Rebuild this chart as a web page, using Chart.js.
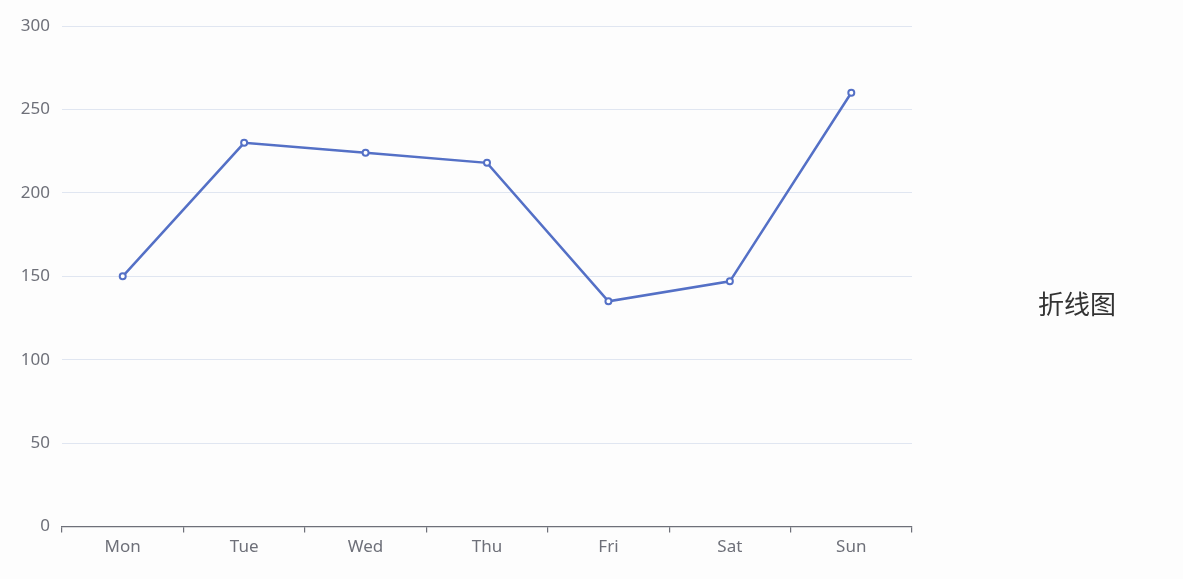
<!DOCTYPE html>
<html><head><meta charset="utf-8">
<script src="https://cdn.jsdelivr.net/npm/chart.js@4"></script>
<style>html,body{margin:0;padding:0;background:#fdfdfd;}#w{position:relative;width:1183px;height:579px;}
#t{position:absolute;left:1038px;top:284px;font:26px "Noto Sans CJK SC";color:#333;}</style>
</head><body><div id="w"><canvas id="c" width="1183" height="579"></canvas><div id="t">折线图</div></div>
<script>
const categories=['Mon','Tue','Wed','Thu','Fri','Sat','Sun'];
const values=[150,230,224,218,135,147,260];
const font={family:'"Noto Sans", sans-serif',size:17};
new Chart(document.getElementById('c'),{type:'line',
data:{labels:categories,datasets:[{data:values,borderColor:'#5470c6',borderWidth:2.5,pointRadius:3,pointBorderWidth:2,pointBackgroundColor:'#fff',pointBorderColor:'#5470c6',tension:0}]},
options:{responsive:false,animation:false,plugins:{legend:{display:false},tooltip:{enabled:false}},
layout:{padding:{top:26,right:271,bottom:18,left:0}},
scales:{
x:{offset:true,grid:{offset:true,drawOnChartArea:false,tickLength:6,color:'#6e7079',lineWidth:1.2},border:{color:'#6e7079',width:1.2},ticks:{color:'#6e7079',font,padding:4}},
y:{min:0,max:300,afterFit:s=>{s.width=62},ticks:{stepSize:50,color:'#6e7079',font,padding:12},grid:{color:'#e0e6f1',drawTicks:false},border:{display:false}}
}}});
</script></body></html>
